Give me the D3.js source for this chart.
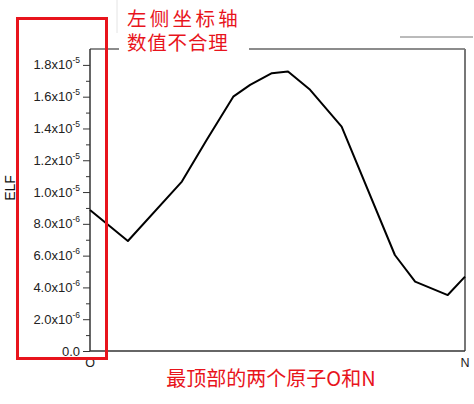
<!DOCTYPE html>
<html>
<head>
<meta charset="utf-8">
<script src="https://cdn.jsdelivr.net/npm/d3@7"></script>
<style>
  body { margin: 0; background: #fff; }
  svg { display: block; }
</style>
</head>
<body>
<svg id="chart" width="474" height="404"></svg>
<script>
// position along the O -> N line (0 = O, 1 = N)
var posFrac = [0, 0.101, 0.245, 0.311, 0.382, 0.427, 0.485, 0.528, 0.587, 0.671, 0.813, 0.867, 0.954, 1];
// ELF values
var elfVals = [8.87e-6, 6.92e-6, 1.066e-5, 1.328e-5, 1.60e-5, 1.674e-5, 1.748e-5, 1.758e-5, 1.643e-5, 1.412e-5, 6.04e-6, 4.36e-6, 3.52e-6, 4.68e-6];
// y ticks
var yMajor = [0, 2e-6, 4e-6, 6e-6, 8e-6, 1e-5, 1.2e-5, 1.4e-5, 1.6e-5, 1.8e-5];
var yMinor = [1e-6, 3e-6, 5e-6, 7e-6, 9e-6, 1.1e-5, 1.3e-5, 1.5e-5, 1.7e-5];
var tickMantissa = ["0.0", "2.0x10", "4.0x10", "6.0x10", "8.0x10", "1.0x10", "1.2x10", "1.4x10", "1.6x10", "1.8x10"];
var tickExp = ["", "-6", "-6", "-6", "-6", "-5", "-5", "-5", "-5", "-5"];
var xLabels = ["O", "N"];
var noteTop = ["左侧坐标轴", "数值不合理"];
var noteBottom = "最顶部的两个原子O和N";

var svg = d3.select("#chart");
var red = "#e8141c";

var x = d3.scaleLinear().domain([0, 1]).range([90, 465]);
var y = d3.scaleLinear().domain([0, 1.9e-5]).range([351, 49]);

// faint leftovers of the screenshot
svg.append("line").attr("x1", 117).attr("x2", 117).attr("y1", 0).attr("y2", 33)
	.attr("stroke", "#e4e4e4").attr("stroke-width", 1);
svg.append("line").attr("x1", 400).attr("x2", 473).attr("y1", 37).attr("y2", 37)
	.attr("stroke", "#777").attr("stroke-width", 1);

// frame: top and right
svg.append("line").attr("x1", x(0)).attr("x2", x(1)).attr("y1", y(1.9e-5)).attr("y2", y(1.9e-5))
	.attr("stroke", "#666").attr("stroke-width", 1.5);
svg.append("line").attr("x1", x(1)).attr("x2", x(1)).attr("y1", y(1.9e-5)).attr("y2", y(0))
	.attr("stroke", "#777").attr("stroke-width", 2);

// bottom axis
svg.append("line").attr("x1", x(0)).attr("x2", x(1)).attr("y1", y(0)).attr("y2", y(0))
	.attr("stroke", "#333").attr("stroke-width", 1.5);

// left axis, minor then major
var gMinor = svg.append("g").attr("transform", "translate(" + x(0) + ",0)")
	.call(d3.axisLeft(y).tickValues(yMinor).tickSize(4).tickFormat(""));
gMinor.select(".domain").remove();
gMinor.selectAll("line").attr("stroke", "#333");

var gMajor = svg.append("g").attr("transform", "translate(" + x(0) + ",0)")
	.call(d3.axisLeft(y).tickValues(yMajor).tickSize(7).tickSizeOuter(0).tickFormat(""));
gMajor.select(".domain").attr("stroke", "#333").attr("stroke-width", 1.5)
	.attr("d", "M0," + y(1.9e-5) + "V" + y(0));
gMajor.selectAll("line").attr("stroke", "#333");

// tick labels with superscript exponent
var lab = svg.append("g")
	.attr("font-family", "Liberation Sans, Arial, sans-serif")
	.attr("font-size", 13).attr("fill", "#222");
yMajor.forEach(function(v, i) {
	var t = lab.append("text")
		.attr("x", 80).attr("y", y(v) + 4.5)
		.attr("text-anchor", "end");
	t.append("tspan").text(tickMantissa[i]);
	if (tickExp[i]) {
		t.append("tspan").attr("font-size", 8.5).attr("dy", -6).text(tickExp[i]);
	}
});

// x labels
svg.selectAll(".xlab").data(xLabels).enter().append("text")
	.attr("class", "xlab")
	.attr("x", function(d, i) { return x(i); })
	.attr("y", 367)
	.attr("text-anchor", "middle")
	.attr("font-family", "Liberation Sans, Arial, sans-serif")
	.attr("font-size", 12.5).attr("fill", "#222")
	.text(function(d) { return d; });

// y title
svg.append("text")
	.attr("transform", "translate(15,188) rotate(-90)")
	.attr("text-anchor", "middle")
	.attr("font-family", "Liberation Sans, Arial, sans-serif")
	.attr("font-size", 14).attr("fill", "#111")
	.text("ELF");

// the curve
var pts = posFrac.map(function(p, i) { return [p, elfVals[i]]; });
var line = d3.line()
	.x(function(d) { return x(d[0]); })
	.y(function(d) { return y(d[1]); });
svg.append("path")
	.datum(pts)
	.attr("d", line)
	.attr("fill", "none")
	.attr("stroke", "#000")
	.attr("stroke-width", 2)
	.attr("stroke-linejoin", "round");

// annotation on top, white box hides part of the frame
svg.append("rect").attr("x", 119).attr("y", 8).attr("width", 130).attr("height", 50).attr("fill", "#fff");
svg.selectAll(".note").data(noteTop).enter().append("text")
	.attr("class", "note")
	.attr("x", 127)
	.attr("y", function(d, i) { return 26 + i * 24; })
	.attr("font-family", "Noto Sans CJK SC, sans-serif")
	.attr("font-size", 19.5)
	.attr("letter-spacing", function(d, i) { return i == 0 ? 3.3 : 0.8; })
	.attr("fill", red)
	.text(function(d) { return d; });

svg.append("text")
	.attr("x", 271).attr("y", 386)
	.attr("text-anchor", "middle")
	.attr("font-family", "Noto Sans CJK SC, sans-serif")
	.attr("font-size", 20)
	.attr("fill", red)
	.text(noteBottom);

// red highlight box around left axis
svg.append("rect")
	.attr("x", 17.5).attr("y", 18.5).attr("width", 89).attr("height", 340)
	.attr("fill", "none").attr("stroke", red).attr("stroke-width", 3);
</script>
</body>
</html>
